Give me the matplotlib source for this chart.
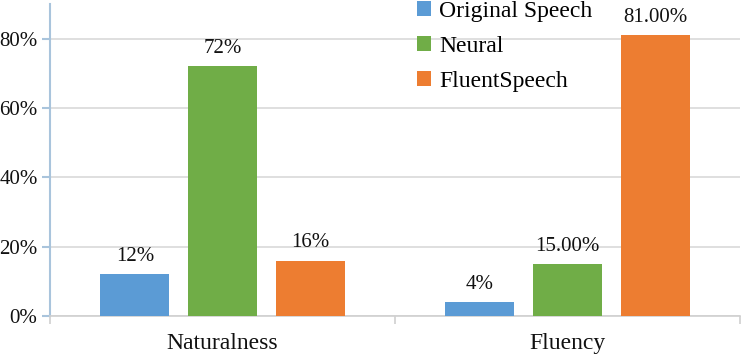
import matplotlib.pyplot as plt
import numpy as np
from matplotlib.ticker import FixedLocator, FuncFormatter

# data
categories = ['Naturalness', 'Fluency']
series = ['Original Speech', 'Neural', 'FluentSpeech']
values = {
    'Original Speech': [12, 4],
    'Neural': [72, 15],
    'FluentSpeech': [16, 81],
}
labels = {
    'Original Speech': ['12%', '4%'],
    'Neural': ['72%', '15.00%'],
    'FluentSpeech': ['16%', '81.00%'],
}
yticks = [0, 20, 40, 60, 80]

colors = ['#5B9BD5', '#70AD47', '#ED7D31']
plt.rcParams['font.family'] = ['Liberation Serif', 'DejaVu Serif']

fig = plt.figure(figsize=(7.46, 3.54), dpi=100)
ax = fig.add_axes([50 / 746, 38 / 354, 690 / 746, 312 / 354])

x = np.arange(len(categories))
width = 0.2
step = 0.254
for i, name in enumerate(series):
    pos = x + (i - 1) * step
    bars = ax.bar(pos, values[name], width, color=colors[i], label=name, zorder=3)
    for b, lab in zip(bars, labels[name]):
        ax.annotate(lab, (b.get_x() + b.get_width() / 2, b.get_height()),
                    xytext=(0, 6), textcoords='offset points',
                    ha='center', va='bottom', fontsize=15, color='#111111')

ax.set_xlim(-0.5, 1.5)
ax.set_ylim(0, 90)
ax.set_yticks(yticks)
ax.yaxis.set_major_formatter(FuncFormatter(lambda v, p: '%d%%' % v))
ax.grid(axis='y', color='#D9D9D9', linewidth=1.2, zorder=0)

for s in ['top', 'right']:
    ax.spines[s].set_visible(False)
ax.spines['left'].set_color('#A9C4DC')
ax.spines['left'].set_linewidth(1.5)
ax.spines['bottom'].set_color('#D0D0D0')
ax.spines['bottom'].set_linewidth(1.2)

ax.tick_params(axis='y', direction='out', length=6, width=1.5, color='#A9C4DC',
               pad=3, labelsize=15, labelcolor='#111111')
ax.set_xticks(x)
ax.set_xticklabels(categories)
ax.tick_params(axis='x', which='major', length=0, pad=12, labelsize=17, labelcolor='#111111')
ax.xaxis.set_minor_locator(FixedLocator([-0.5, 0.5, 1.5]))
ax.tick_params(axis='x', which='minor', direction='out', length=6, width=1.2, color='#D0D0D0')

ax.legend(loc='upper left', bbox_to_anchor=(367 / 690, 1.010), frameon=False,
          fontsize=17, handlelength=0.6, handleheight=0.6, handletextpad=0.35,
          labelspacing=0.6, borderaxespad=0, borderpad=0)

fig.savefig('out.png', dpi=100)
